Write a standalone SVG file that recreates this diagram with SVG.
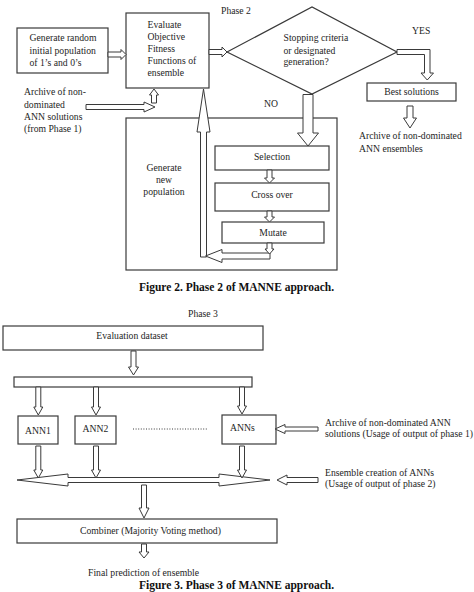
<svg xmlns="http://www.w3.org/2000/svg" width="474" height="592" viewBox="0 0 474 592">
<style>
  .box { fill: #ffffff; stroke: #3a3a3a; stroke-width: 1.2; }
  .arr { fill: #ffffff; stroke: #3a3a3a; stroke-width: 1; stroke-linejoin: miter; }
  .t { font-family: "Liberation Serif", "Times New Roman", serif; font-size: 9.7px; fill: #1e1e1e; }
  .m { text-anchor: middle; }
  .cap { font-family: "Liberation Serif", "Times New Roman", serif; font-size: 11.5px; font-weight: bold; fill: #111111; text-anchor: middle; }
  .dot { stroke: #3a3a3a; stroke-width: 1; stroke-dasharray: 1 1.6; fill: none; }
</style>
<rect width="474" height="592" fill="#ffffff"/>

<!-- Phase 2 -->
<text class="t" x="221" y="13.5">Phase 2</text>

<g id="gen-random">
  <rect class="box" x="17" y="28" width="91" height="45"/>
  <text class="t" x="29.5" y="40.5">Generate random</text>
  <text class="t" x="29.5" y="53.5">initial population</text>
  <text class="t" x="29.5" y="66">of 1’s and 0’s</text>
</g>

<g id="evaluate">
  <rect class="box" x="126" y="13" width="83" height="75"/>
  <text class="t" x="147.5" y="27.5">Evaluate</text>
  <text class="t" x="147.5" y="39.5">Objective</text>
  <text class="t" x="147.5" y="51.5">Fitness</text>
  <text class="t" x="147.5" y="64">Functions of</text>
  <text class="t" x="147.5" y="76">ensemble</text>
</g>

<g id="archive-in">
  <text class="t" x="24" y="95">Archive of non-</text>
  <text class="t" x="24" y="107.5">dominated</text>
  <text class="t" x="24" y="120">ANN solutions</text>
  <text class="t" x="24" y="132">(from Phase 1)</text>
</g>

<g id="stopping">
  <polygon class="box" points="227,52 312,7 397,52 312,94"/>
  <text class="t" x="283.5" y="40.5">Stopping criteria</text>
  <text class="t" x="283.5" y="53.5">or designated</text>
  <text class="t" x="283.5" y="65">generation?</text>
</g>

<g id="best">
  <rect class="box" x="367" y="83" width="89" height="18"/>
  <text class="t m" x="411.5" y="94.5">Best solutions</text>
</g>

<g id="archive-out">
  <text class="t" x="359" y="138.5">Archive of non-dominated</text>
  <text class="t" x="359" y="151.5">ANN ensembles</text>
</g>

<g id="generate-new">
  <rect class="box" x="126" y="118" width="211" height="152"/>
  <text class="t m" x="164" y="170.5">Generate</text>
  <text class="t m" x="164" y="182.5">new</text>
  <text class="t m" x="164" y="194.5">population</text>
</g>

<g id="selection">
  <rect class="box" x="215" y="146" width="114" height="24"/>
  <text class="t m" x="272" y="159.5">Selection</text>
</g>

<g id="crossover">
  <rect class="box" x="215" y="183" width="114" height="28"/>
  <text class="t m" x="272" y="198">Cross over</text>
</g>

<g id="mutate">
  <rect class="box" x="222" y="222" width="102" height="21"/>
  <text class="t m" x="273" y="236">Mutate</text>
</g>

<text class="t" x="264" y="106.5">NO</text>
<text class="t" x="412" y="34">YES</text>

<text class="cap" x="236.5" y="291">Figure 2. Phase 2 of MANNE approach.</text>

<!-- Phase 3 -->
<text class="t m" x="203" y="316.5">Phase 3</text>

<g id="eval-dataset">
  <rect class="box" x="3" y="326" width="260" height="24"/>
  <text class="t m" x="132" y="339">Evaluation dataset</text>
</g>

<g id="bar">
  <rect class="box" x="14" y="377" width="238" height="10"/>
</g>

<g id="ann1">
  <rect class="box" x="18" y="416" width="40" height="28"/>
  <text class="t m" x="38" y="433.5">ANN1</text>
</g>

<g id="ann2">
  <rect class="box" x="75" y="416" width="41" height="28"/>
  <text class="t m" x="95.5" y="432">ANN2</text>
</g>

<g id="anns">
  <rect class="box" x="222" y="415" width="54" height="29"/>
  <text class="t" x="230" y="431">ANNs</text>
</g>

<g id="combiner">
  <rect class="box" x="17" y="519" width="260" height="24"/>
  <text class="t" x="80" y="534">Combiner (Majority Voting method)</text>
</g>

<g id="final">
  <text class="t" x="88" y="575.5">Final prediction of ensemble</text>
</g>

<g id="archive-p1">
  <text class="t" x="325" y="426">Archive of non-dominated ANN</text>
  <text class="t" x="325" y="437">solutions (Usage of output of phase 1)</text>
</g>

<g id="ensemble-p2">
  <text class="t" x="325" y="476">Ensemble creation of ANNs</text>
  <text class="t" x="325" y="487">(Usage of output of phase 2)</text>
</g>

<text class="cap" x="236.5" y="588.5">Figure 3. Phase 3 of MANNE approach.</text>

<!-- Connectors -->
<g id="connectors">
  <!-- Phase 2 -->
  <polygon class="arr" points="108,52 121,52 121,49.5 126,54.5 121,59.5 121,57 108,57"/>
  <polygon class="arr" points="209,49.5 222,49.5 222,47 227,52 222,57 222,54.5 209,54.5"/>
  <polygon class="arr" points="86,104.5 144,104.5 144,102 155,107 144,112 144,109.5 86,109.5"/>
  <polygon class="arr" points="151.5,103 151.5,95 149.5,95 154,89 158.5,95 156.5,95 156.5,103"/>
  <polygon class="arr" points="397,49.5 430,49.5 430,73 433.5,73 427.25,80 421,73 424.5,73 424.5,54.5 397,54.5"/>
  <polygon class="arr" points="407,106 413,106 413,118 416.5,118 410,128 403.5,118 407,118"/>
  <polygon class="arr" points="303,94.5 313,94.5 313,133 318.5,133 308,146 297.5,133 303,133"/>
  <polygon class="arr" points="267,170 272,170 272,178 274.5,178 269.5,183 264.5,178 267,178"/>
  <polygon class="arr" points="267,211 272,211 272,217 274.5,217 269.5,222 264.5,217 267,217"/>
  <polygon class="arr" points="200.5,257 200.5,132 197,132 203.5,89 210,132 206.5,132 206.5,257"/>
  <polygon class="arr" points="270,253 222,253 222,249.5 205.5,256 222,262.5 222,259 270,259"/>
  <polygon class="arr" points="267,243 272,243 272,249 274,249 269.5,254 265,249 267,249"/>

  <!-- Phase 3 -->
  <polygon class="arr" points="131,351 136,351 136,367 138.5,367 133.5,375 128.5,367 131,367"/>
  <polygon class="arr" points="35.8,387 40.8,387 40.8,407 42.8,407 38.3,415 33.8,407 35.8,407"/>
  <polygon class="arr" points="93.5,387 98.5,387 98.5,407 100.5,407 96,415 91.5,407 93.5,407"/>
  <polygon class="arr" points="239.5,387 244.5,387 244.5,406 246.5,406 242,414 237.5,406 239.5,406"/>
  <polygon class="arr" points="17,480 68,474 68,477.5 219,477.5 219,474 270,480 219,486 219,482.5 68,482.5 68,486"/>
  <polygon class="arr" points="35.8,446 40.8,446 40.8,470 42.8,470 38.3,478 33.8,470 35.8,470"/>
  <polygon class="arr" points="93.5,446 98.5,446 98.5,470 100.5,470 96,478 91.5,470 93.5,470"/>
  <polygon class="arr" points="239.5,446 244.5,446 244.5,470 246.5,470 242,478 237.5,470 239.5,470"/>
  <polygon class="arr" points="318,427 285,427 285,424.5 275,429 285,433.5 285,431 318,431"/>
  <polygon class="arr" points="318,477.5 287,477.5 287,475 277,480 287,485 287,482.5 318,482.5"/>
  <polygon class="arr" points="141.5,485 146.5,485 146.5,508 149,508 144,518 139,508 141.5,508"/>
  <polygon class="arr" points="141.5,544 146.5,544 146.5,552 149,552 144,558 139,552 141.5,552"/>
  <line class="dot" x1="133" y1="429" x2="207" y2="429"/>
</g>
</svg>
